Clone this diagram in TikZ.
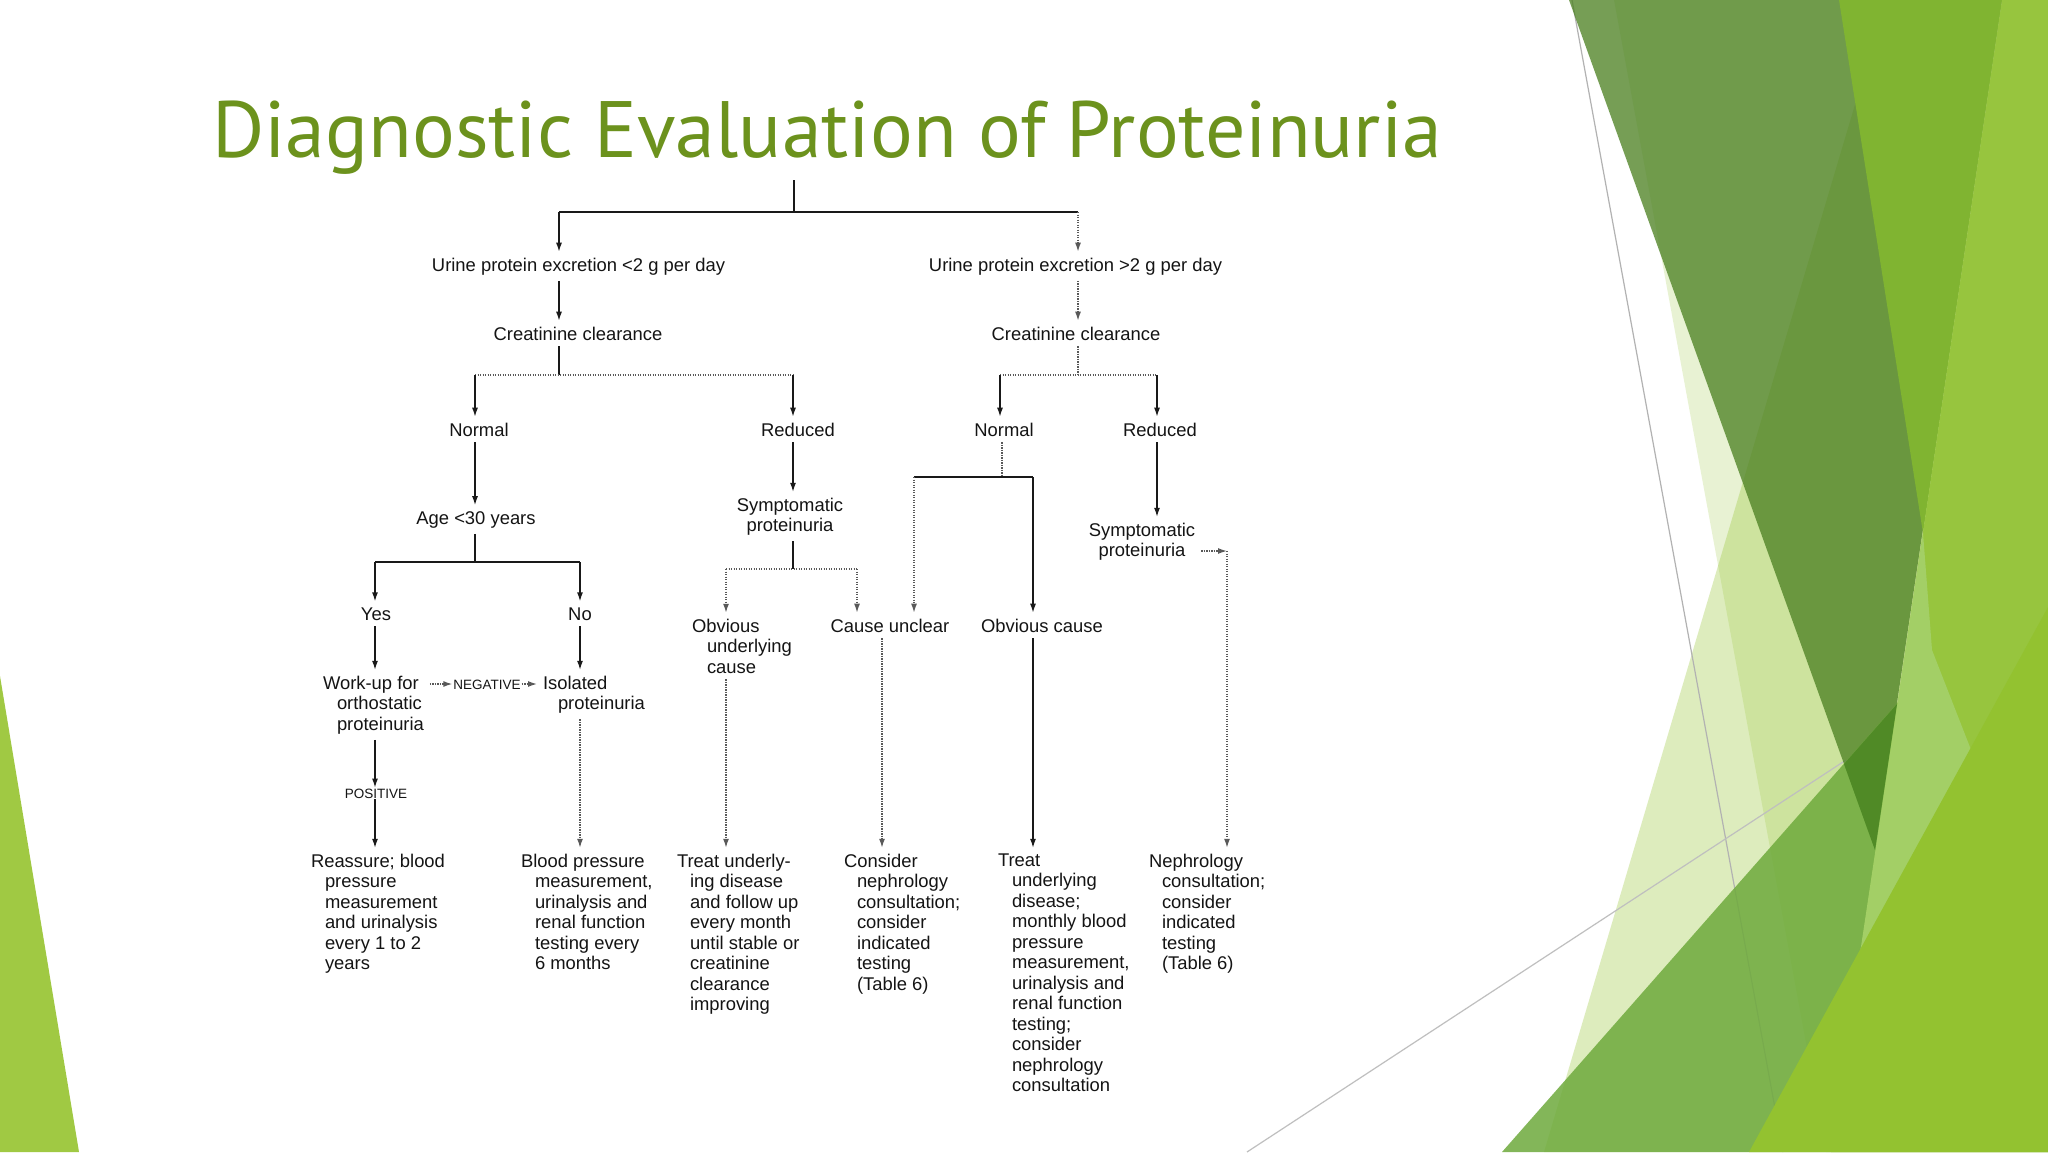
\documentclass[tikz,border=0pt]{standalone}
\usepackage{fontspec}
\usepackage{graphicx}
\setmainfont{Liberation Sans}
\newfontfamily\titlefont{PT Sans}
\usetikzlibrary{arrows.meta}
\definecolor{acc1}{RGB}{144,194,38}
\definecolor{acc2}{RGB}{110,170,60}
\definecolor{dk}{RGB}{77,129,35}
\definecolor{dkx}{RGB}{80,138,38}
\definecolor{bgr}{RGB}{128,180,49}
\definecolor{limec}{RGB}{151,197,62}
\definecolor{qlight}{RGB}{163,207,102}
\definecolor{blc}{RGB}{147,194,48}
\definecolor{leftlime}{RGB}{160,201,67}
\definecolor{titlegreen}{RGB}{108,146,29}
\begin{document}
\begin{tikzpicture}[x=1pt,y=-1pt,
  txt/.style={inner sep=0pt, outer sep=6pt, font=\fontsize{18.4}{20.5}\selectfont, text=black!92},
  sm/.style={inner sep=0pt, outer sep=1pt, font=\fontsize{13.5}{15}\selectfont, text=black!92},
  sol/.style={line width=1.3pt, draw=black!90},
  dot/.style={line width=1.4pt, draw=black!65, dash pattern=on 1.4pt off 1.1pt},
  arr/.style={-{Latex[length=9pt,width=6pt]}},
]
\useasboundingbox (0,0) rectangle (2048,1152);
\fill[white] (0,0) rectangle (2048,1152);

% ---- background decoration ----
\fill[acc1,opacity=.2] (1614,0) -- (2048,0) -- (2048,1152) -- (1826,1152) -- cycle;
\fill[acc1,opacity=.3] (1886,0) -- (2048,0) -- (2048,1152) -- (1544,1152) -- cycle;
\draw[black!30,line width=1.2pt] (1572,0) -- (1783,1152);
\draw[black!25,line width=1.2pt] (1247,1152) -- (1846,760);
\fill[dk,opacity=.77] (1569,0) -- (2002,0) -- (1875,850) -- cycle;
\fill[bgr] (1839,0) -- (2002,0) -- (1923,533) -- cycle;
\fill[acc2,opacity=.85] (1502,1152) -- (2048,532) -- (2048,1152) -- cycle;
\fill[dkx] (1844,764) -- (1897,704) -- (1875,850) -- cycle;
\fill[limec] (2002,0) -- (2048,0) -- (2048,1152) -- (1831,1152) -- cycle;
\fill[qlight] (1923,533) -- (1932,650) -- (1975,760) -- (1850,1020) -- cycle;
\fill[blc] (1749,1152) -- (2048,607) -- (2048,1152) -- cycle;
\fill[leftlime] (0,676) -- (79,1152) -- (0,1152) -- cycle;

% ---- title ----
\node[anchor=base west, inner sep=0pt, text=titlegreen] (title) at (212,157)
  {\resizebox{1229pt}{!}{\titlefont Diagnostic Evaluation of Proteinuria}};

% ---- nodes ----
\node[txt,anchor=base] (u1) at (578.5,271) {Urine protein excretion <2 g per day};
\node[txt,anchor=base] (u2) at (1075.5,271) {Urine protein excretion >2 g per day};
\node[txt,anchor=base] (c1) at (578,340) {Creatinine clearance};
\node[txt,anchor=base] (c2) at (1076,340) {Creatinine clearance};
\node[txt,anchor=base] (n1) at (479,436) {Normal};
\node[txt,anchor=base] (r1) at (798,436) {Reduced};
\node[txt,anchor=base] (n2) at (1004,436) {Normal};
\node[txt,anchor=base] (r2) at (1160,436) {Reduced};
\node[txt,anchor=base] (age) at (476,524) {Age <30 years};
\node[txt,anchor=base] (yes) at (376,620) {Yes};
\node[txt,anchor=base] (no) at (580,620) {No};
\node[txt,anchor=north west,align=left] (wu) at (317,669.8)
  {Work-up for\\\hspace*{14pt}orthostatic\\\hspace*{14pt}proteinuria};
\node[sm,anchor=base] (neg) at (487,689) {NEGATIVE};
\node[txt,anchor=north west,align=left] (iso) at (537,669.8)
  {Isolated\\\hspace*{15pt}proteinuria};
\node[sm,anchor=base] (pos) at (376,798) {POSITIVE};
\node[txt,anchor=north,align=center] (sy1) at (790,491.8) {Symptomatic\\proteinuria};
\node[txt,anchor=north,align=center] (sy2) at (1142,516.8) {Symptomatic\\proteinuria};
\node[txt,anchor=north west,align=left] (ouc) at (686,612.8)
  {Obvious\\\hspace*{15pt}underlying\\\hspace*{15pt}cause};
\node[txt,anchor=base] (cu) at (890,632) {Cause unclear};
\node[txt,anchor=base] (oc) at (1042,632) {Obvious cause};

\node[txt,anchor=north west,align=left] (t1) at (305,847.8)
  {Reassure; blood\\\hspace*{14pt}pressure\\\hspace*{14pt}measurement\\\hspace*{14pt}and urinalysis\\\hspace*{14pt}every 1 to 2\\\hspace*{14pt}years};
\node[txt,anchor=north west,align=left] (t2) at (515,847.8)
  {Blood pressure\\\hspace*{14pt}measurement,\\\hspace*{14pt}urinalysis and\\\hspace*{14pt}renal function\\\hspace*{14pt}testing every\\\hspace*{14pt}6 months};
\node[txt,anchor=north west,align=left] (t3) at (671,847.8)
  {Treat underly-\\\hspace*{13pt}ing disease\\\hspace*{13pt}and follow up\\\hspace*{13pt}every month\\\hspace*{13pt}until stable or\\\hspace*{13pt}creatinine\\\hspace*{13pt}clearance\\\hspace*{13pt}improving};
\node[txt,anchor=north west,align=left] (t4) at (838,847.8)
  {Consider\\\hspace*{13pt}nephrology\\\hspace*{13pt}consultation;\\\hspace*{13pt}consider\\\hspace*{13pt}indicated\\\hspace*{13pt}testing\\\hspace*{13pt}(Table 6)};
\node[txt,anchor=north west,align=left] (t5) at (992,847.8)
  {Treat\\\hspace*{14pt}underlying\\\hspace*{14pt}disease;\\\hspace*{14pt}monthly blood\\\hspace*{14pt}pressure\\\hspace*{14pt}measurement,\\\hspace*{14pt}urinalysis and\\\hspace*{14pt}renal function\\\hspace*{14pt}testing;\\\hspace*{14pt}consider\\\hspace*{14pt}nephrology\\\hspace*{14pt}consultation};
\node[txt,anchor=north west,align=left] (t6) at (1143,847.8)
  {Nephrology\\\hspace*{13pt}consultation;\\\hspace*{13pt}consider\\\hspace*{13pt}indicated\\\hspace*{13pt}testing\\\hspace*{13pt}(Table 6)};

% ---- connectors ----
\coordinate (top) at (794,180);
\coordinate (s0) at (794,212);
\coordinate (xL) at (559,212);
\coordinate (xR) at (1078,212);
\draw[sol] (top) -- (s0);
\draw[sol] (xL) -- (xR);
\draw[sol,arr] (xL) -- (xL |- u1.north);
\draw[dot,arr] (xR) -- (xR |- u2.north);
\draw[sol,arr] (xL |- u1.south) -- (xL |- c1.north);
\draw[dot,arr] (xR |- u2.south) -- (xR |- c2.north);

\coordinate (c1L) at (475,375);
\coordinate (c1R) at (793,375);
\coordinate (c1s) at (559,375);
\draw[sol] (xL |- c1.south) -- (c1s);
\draw[dot] (c1L) -- (c1R);
\draw[sol,arr] (c1L) -- (c1L |- n1.north);
\draw[sol,arr] (c1R) -- (c1R |- r1.north);

\coordinate (c2L) at (1000,375);
\coordinate (c2R) at (1157,375);
\coordinate (c2s) at (1078,375);
\draw[dot] (xR |- c2.south) -- (c2s);
\draw[dot] (c2L) -- (c2R);
\draw[sol,arr] (c2L) -- (c2L |- n2.north);
\draw[sol,arr] (c2R) -- (c2R |- r2.north);

% left normal branch
\draw[sol,arr] (c1L |- n1.south) -- (c1L |- age.north);
\coordinate (aL) at (375,562);
\coordinate (aR) at (580,562);
\draw[sol] (c1L |- age.south) -- (c1L |- aL);
\draw[sol] (aL) -- (aR);
\draw[sol,arr] (aL) -- (aL |- yes.north);
\draw[sol,arr] (aR) -- (aR |- no.north);
\draw[sol,arr] (aL |- yes.south) -- (aL |- wu.north);
\draw[sol,arr] (aR |- no.south) -- (aR |- iso.north);
\coordinate (negA) at (0,684);
\draw[dot,arr] (wu.east |- negA) -- (neg.west |- negA);
\draw[dot,arr] (neg.east |- negA) -- (iso.west |- negA);
\draw[sol,arr] (aL |- wu.south) -- (aL |- pos.north);
\draw[sol,arr] (aL |- pos.south) -- (aL |- t1.north);
\draw[dot,arr] (aR |- iso.south) -- (aR |- t2.north);

% left reduced branch
\draw[sol,arr] (c1R |- r1.south) -- (c1R |- sy1.north);
\coordinate (syL) at (726,569);
\coordinate (syR) at (857,569);
\draw[sol] (c1R |- sy1.south) -- (c1R |- syL);
\draw[dot] (syL) -- (syR);
\draw[dot,arr] (syL) -- (syL |- ouc.north);
\draw[dot,arr] (syR) -- (syR |- cu.north);
\draw[dot,arr] (syL |- ouc.south) -- (syL |- t3.north);
\coordinate (cux) at (882,0);
\draw[dot,arr] (cux |- cu.south) -- (cux |- t4.north);

% right normal branch
\coordinate (nL) at (914,477);
\coordinate (nR) at (1033,477);
\coordinate (nS) at (1002,477);
\draw[dot] (nS |- n2.south) -- (nS);
\draw[sol] (nL) -- (nR);
\draw[dot,arr] (nL) -- (nL |- cu.north);
\draw[sol,arr] (nR) -- (nR |- oc.north);
\draw[sol,arr] (nR |- oc.south) -- (nR |- t5.north);

% right reduced branch
\draw[sol,arr] (c2R |- r2.south) -- (c2R |- sy2.north);
\coordinate (s2c) at (1227,551);
\draw[dot,arr] (sy2.east |- s2c) -- (s2c);
\draw[dot,arr] (s2c) -- (s2c |- t6.north);
\end{tikzpicture}
\end{document}
